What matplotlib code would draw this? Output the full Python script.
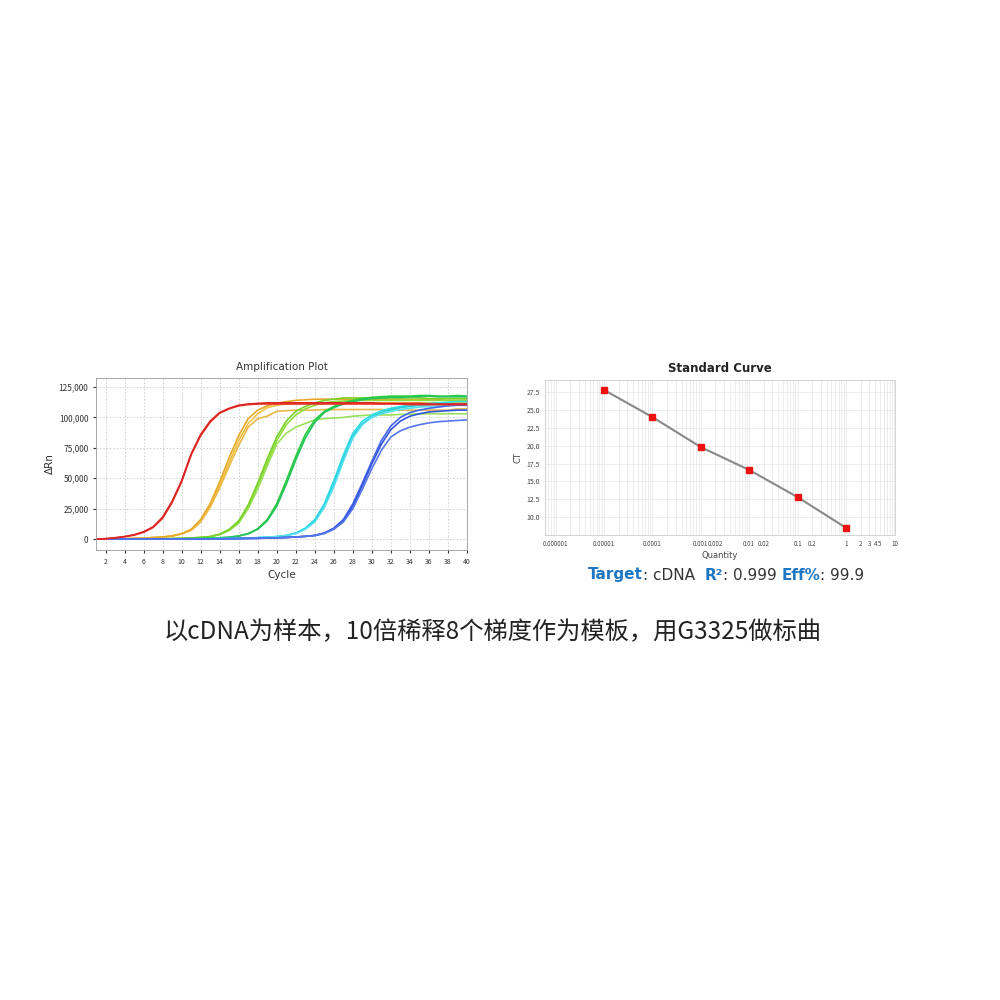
import matplotlib
matplotlib.use("Agg")
import matplotlib.pyplot as plt
import numpy as np
from matplotlib.offsetbox import TextArea, HPacker, AnchoredOffsetbox
from matplotlib.ticker import FixedLocator, NullFormatter, FuncFormatter

plt.rcParams['font.family'] = ['Noto Sans CJK SC', 'DejaVu Sans']

cycles = list(range(1, 41))
# amplification curves, delta Rn in thousands
red_a = [0,0.3,1,2,3.5,6,10,18,31,48,70,86,97,104,107.5,110,111,111.5,112,112,112,112,112,112,112,112,112,112,112,112,111.5,111.5,111.5,111.5,111.5,111,111,111,111,111]
red_b = [0,0.3,1,2,3.2,5.5,9.5,17,30,47,69,85,96,103.5,107,109.5,110.5,111,111,111,111,111,111,111,111,111,111,111,111,111,111,111,111,110.5,110.5,110.5,110.5,110.5,110.5,110.5]
orange_a = [0,0,0.1,0.3,0.5,0.8,1.2,1.7,2.5,4.5,8,16,29,47,67,85,99,106,109.5,111.5,113,114,114.5,115,115,115,115,115,115,115,115,115,115,114.5,114.5,114.5,114.5,114,114,114]
orange_b = [0,0,0.1,0.3,0.5,0.8,1.2,1.7,2.5,4.3,7.5,15,27,44,63,81,95,103,108,110,111,111.5,112,112,112,112,112,112,112,112,112,112,112,112,112,112,112,112,112,112]
orange_c = [0,0,0.1,0.3,0.5,0.8,1.2,1.7,2.5,4.2,7,14,26,42,60,77,92,99,101,105,105.5,106,106,106,106.5,106.5,106.5,106.5,106.5,106.5,106.5,106,106,106,106,106,106,106,107,107]
lgreen_a = [0,0,0,0,0,0.1,0.2,0.3,0.4,0.6,0.9,1.3,2,4,8,15,28,46,66,84,97,105,109,112,114,115,116,116,116,116,116,116,116,116,116,115.5,115.5,115.5,115.5,115.5]
lgreen_b = [0,0,0,0,0,0.1,0.2,0.3,0.4,0.6,0.9,1.3,2,3.8,7.5,14,27,44,63,81,94,102,107,110,112,113,113.5,114,114,114,114,114,114,114,114,114,114,114,114,114]
lgreen_c = [0,0,0,0,0,0.1,0.2,0.3,0.4,0.6,0.9,1.3,2,3.7,7,13,25,41,60,78,87,92,95,98,99,99.5,100,101,101.5,102,102,102,102.5,102.5,103,103,103,103,103,103]
green_a = [0,0,0,0,0,0,0,0,0.1,0.2,0.3,0.5,0.7,1,1.5,2.5,4.5,8.5,16,29,48,68,86,98,105,109,112,114,115.5,116.5,117,117.5,117.5,117.5,118,118,117.5,117.5,118,117.5]
green_b = [0,0,0,0,0,0,0,0,0.1,0.2,0.3,0.5,0.7,1,1.5,2.5,4.3,8,15,27,45,65,83,96,104,108,111,113,114.5,115.5,116,116.5,116.5,117,117,117.5,117,117,117,117]
cyan_a = [0,0,0,0,0,0,0,0,0,0,0,0.1,0.2,0.3,0.4,0.6,0.8,1.1,1.5,2,3,5,9,16,29,48,69,87,97,102,105.5,107.5,109,110,111,111.5,112,112.5,113,113]
cyan_b = [0,0,0,0,0,0,0,0,0,0,0,0.1,0.2,0.3,0.4,0.6,0.8,1.1,1.5,2,2.8,4.7,8.5,15,27,45,66,85,95,100.5,104,106.5,108,109,110,110.5,111,111,111,111]
cyan_c = [0,0,0,0,0,0,0,0,0,0,0,0.1,0.2,0.3,0.4,0.6,0.8,1.1,1.5,2,2.8,4.5,8,14,26,43,64,83,94,100,103,105,106.5,107.5,108.5,109,109.5,110,110,110]
blue_a = [0,0,0,0,0,0,0,0,0,0,0,0.1,0.1,0.2,0.3,0.4,0.5,0.6,0.8,1,1.3,1.7,2.2,3,5,9,16,29,46,64,81,93,100,104,106,107.5,108.5,109.5,110,110]
blue_b = [0,0,0,0,0,0,0,0,0,0,0,0.1,0.1,0.2,0.3,0.4,0.5,0.6,0.8,1,1.3,1.7,2.2,3,4.8,8.5,15,27,44,62,78,90,97,101,103,104.5,105,105.5,106,106]
blue_c = [0,0,0,0,0,0,0,0,0,0,0,0.1,0.1,0.2,0.3,0.4,0.5,0.6,0.8,1,1.3,1.7,2.2,2.8,4.5,8,14,25,41,58,73,84,89,92,94,95.5,96.5,97,97.5,98]

curves = [
    (lgreen_c, '#9be05a'), (orange_c, '#e8b84a'), (orange_b, '#f0c040'), (orange_a, '#e6a82a'),
    (lgreen_b, '#8fdc3a'), (lgreen_a, '#7ad12a'),
    (green_a, '#2ecc40'), (green_b, '#22c55a'),
    (cyan_a, '#33dde6'), (cyan_b, '#22cfdd'), (cyan_c, '#55e0ee'),
    (blue_a, '#4466ee'), (blue_b, '#3355dd'), (blue_c, '#5577ee'),
    (red_b, '#e83a2a'), (red_a, '#dd2222'),
]

quantity = [1e-5, 1e-4, 1e-3, 1e-2, 1e-1, 1]
ct = [27.8, 24.0, 19.8, 16.6, 12.8, 8.5]

fig = plt.figure(figsize=(10, 10), dpi=100)

ax = fig.add_axes([0.096, 0.45, 0.371, 0.172])
for vals, c in curves:
    ax.plot(cycles, np.array(vals) * 1000, color=c, lw=1.2)
ax.set_xlim(1, 40)
ax.set_ylim(-9000, 132400)
ax.set_xticks(range(2, 41, 2))
ax.set_yticks([0, 25000, 50000, 75000, 100000, 125000])
ax.yaxis.set_major_formatter(FuncFormatter(lambda v, p: f"{int(v):,}"))
ax.tick_params(labelsize=6, length=2, colors='#333333')
ax.tick_params(axis='x', labelsize=5)
ax.grid(True, ls=(0, (2, 2)), color='#cccccc', lw=0.6)
for s in ax.spines.values():
    s.set_color('#999999'); s.set_linewidth(0.6)
ax.set_title('Amplification Plot', fontsize=7.5, color='#333333', pad=6, family='DejaVu Sans')
ax.set_xlabel('Cycle', fontsize=7.5, color='#333333', labelpad=3, family='DejaVu Sans')
ax.set_ylabel('ΔRn', fontsize=7.5, color='#333333', labelpad=3, family='DejaVu Sans')

ax2 = fig.add_axes([0.545, 0.465, 0.35, 0.155])
ax2.set_xscale('log')
ax2.set_xlim(6.0e-7, 10.3)
ax2.set_ylim(7.5, 29.2)
ax2.plot(quantity, ct, color='#888888', lw=1.5, zorder=2)
ax2.plot(quantity, ct, 's', color='#ee1111', ms=5, zorder=3)
ax2.set_yticks([10, 12.5, 15, 17.5, 20, 22.5, 25, 27.5])
ax2.yaxis.set_major_formatter(FuncFormatter(lambda v, p: f"{v:.1f}"))
xt = [1e-6, 1e-5, 1e-4, 1e-3, 2e-3, 1e-2, 2e-2, 1e-1, 2e-1, 1, 2, 3, 4, 5, 10]
xl = ['0.000001', '0.00001', '0.0001', '0.001', '0.002', '0.01', '0.02', '0.1', '0.2', '1', '2', '3', '4', '5', '10']
ax2.set_xticks(xt)
ax2.set_xticklabels(xl)
ax2.xaxis.set_minor_locator(FixedLocator([m * 10.0**e for e in range(-7, 1) for m in range(2, 10)]))
ax2.xaxis.set_minor_formatter(NullFormatter())
ax2.tick_params(labelsize=4.5, length=0, colors='#444444', which='both')
ax2.tick_params(axis='y', labelsize=5)
ax2.grid(True, which='both', color='#e6e6e6', lw=0.5)
for s in ax2.spines.values():
    s.set_color('#cccccc'); s.set_linewidth(0.6)
ax2.set_title('Standard Curve', fontsize=8.5, fontweight='bold', color='#222222', pad=6, family='DejaVu Sans')
ax2.set_xlabel('Quantity', fontsize=6, color='#444444', labelpad=2, family='DejaVu Sans')
ax2.set_ylabel('CT', fontsize=6, color='#444444', labelpad=3, family='DejaVu Sans')

blue = '#1f77c4'
fp = dict(family='DejaVu Sans', size=11)
parts = [("Target", blue, 'bold'), (": cDNA  ", '#333333', 'normal'), ("R²", blue, 'bold'),
         (": 0.999 ", '#333333', 'normal'), ("Eff%", blue, 'bold'), (": 99.9", '#333333', 'normal')]
boxes = [TextArea(t, textprops=dict(color=c, fontweight=w, **fp)) for t, c, w in parts]
pk = HPacker(children=boxes, align='baseline', pad=0, sep=0)
ab = AnchoredOffsetbox(loc='center', child=pk, frameon=False, bbox_to_anchor=(0.726, 0.425),
                       bbox_transform=fig.transFigure, pad=0, borderpad=0)
fig.add_artist(ab)

fig.text(0.493, 0.368, '以cDNA为样本，10倍稀释8个梯度作为模板，用G3325做标曲', ha='center', va='center',
         fontsize=17.5, color='#222222', fontweight='light')

fig.savefig('out.png', dpi=100, facecolor='white')
